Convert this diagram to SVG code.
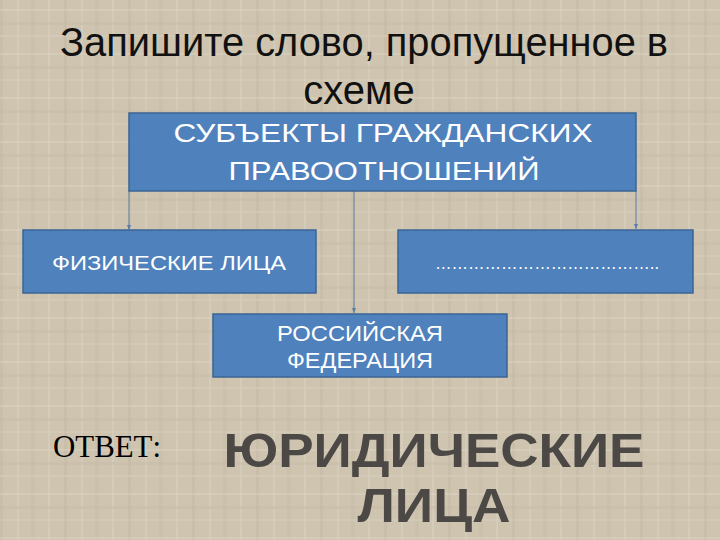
<svg xmlns="http://www.w3.org/2000/svg" width="720" height="540" viewBox="0 0 720 540">
<defs>
<style>
.box{fill:#4f81bd;stroke:#3b6494;stroke-width:1.5}
.wt{fill:#ffffff;font-family:"Liberation Sans",Arial,sans-serif;text-anchor:middle}
.conn{stroke:#5a7ca8;stroke-width:1;fill:none}
.big{font-family:"Liberation Sans",Arial,sans-serif;font-weight:bold;font-size:48px;fill:#4b4845;text-anchor:middle}
</style>
<marker id="ah" viewBox="0 0 10 10" refX="10" refY="5" markerWidth="5" markerHeight="5" orient="auto">
<path d="M0,1 L10,5 L0,9 z" fill="#5a7ca8"/>
</marker>
<pattern id="tex" width="64" height="44" patternUnits="userSpaceOnUse">
<rect width="64" height="44" fill="#cec4b0"/>
<rect x="0" y="0" width="3" height="44" fill="#c3b8a4" opacity="0.5"/>
<rect x="17" y="0" width="2" height="44" fill="#d9d1c1" opacity="0.6"/>
<rect x="31" y="0" width="4" height="44" fill="#c6bba7" opacity="0.45"/>
<rect x="48" y="0" width="2" height="44" fill="#d8d0c0" opacity="0.6"/>
<rect x="0" y="9" width="64" height="2" fill="#d9d1c2" opacity="0.5"/>
<rect x="0" y="22" width="64" height="3" fill="#c5baa6" opacity="0.45"/>
<rect x="0" y="35" width="64" height="2" fill="#d7cebe" opacity="0.5"/>
</pattern>
</defs>
<rect width="720" height="540" fill="url(#tex)"/>
<g id="title" font-family="Liberation Sans,Arial,sans-serif" font-size="40" fill="#111" text-anchor="middle">
<text x="364" y="56" textLength="608" lengthAdjust="spacingAndGlyphs">Запишите слово, пропущенное в</text>
<text x="359" y="104">схеме</text>
</g>
<g id="connectors">
<line class="conn" x1="129" y1="191" x2="129" y2="230" marker-end="url(#ah)"/>
<line class="conn" x1="354" y1="191" x2="354" y2="313" marker-end="url(#ah)"/>
<line class="conn" x1="636" y1="191" x2="636" y2="229" marker-end="url(#ah)"/>
</g>
<g id="root">
<rect class="box" x="129" y="113" width="507" height="78"/>
<text class="wt" x="383" y="142" font-size="25" textLength="419" lengthAdjust="spacingAndGlyphs">СУБЪЕКТЫ ГРАЖДАНСКИХ</text>
<text class="wt" x="384" y="180" font-size="25" textLength="311" lengthAdjust="spacingAndGlyphs">ПРАВООТНОШЕНИЙ</text>
</g>
<g id="phys">
<rect class="box" x="23" y="230" width="293" height="63"/>
<text class="wt" x="169" y="270" font-size="21" textLength="234" lengthAdjust="spacingAndGlyphs">ФИЗИЧЕСКИЕ ЛИЦА</text>
</g>
<g id="blank">
<rect class="box" x="398" y="230" width="295" height="63"/>
<text class="wt" x="547" y="269" font-size="19" textLength="224" lengthAdjust="spacingAndGlyphs">…………………………………..</text>
</g>
<g id="rf">
<rect class="box" x="213" y="314" width="294" height="63"/>
<text class="wt" x="360" y="341" font-size="22" textLength="166" lengthAdjust="spacingAndGlyphs">РОССИЙСКАЯ</text>
<text class="wt" x="360" y="368" font-size="22" textLength="146" lengthAdjust="spacingAndGlyphs">ФЕДЕРАЦИЯ</text>
</g>
<g id="answer">
<text x="53" y="457" font-family="Liberation Serif,Times New Roman,serif" font-size="32" fill="#000" textLength="108" lengthAdjust="spacingAndGlyphs">ОТВЕТ:</text>
<text class="big" x="434" y="467" textLength="421" lengthAdjust="spacingAndGlyphs">ЮРИДИЧЕСКИЕ</text>
<text class="big" x="434" y="522" textLength="153" lengthAdjust="spacingAndGlyphs">ЛИЦА</text>
</g>
</svg>
